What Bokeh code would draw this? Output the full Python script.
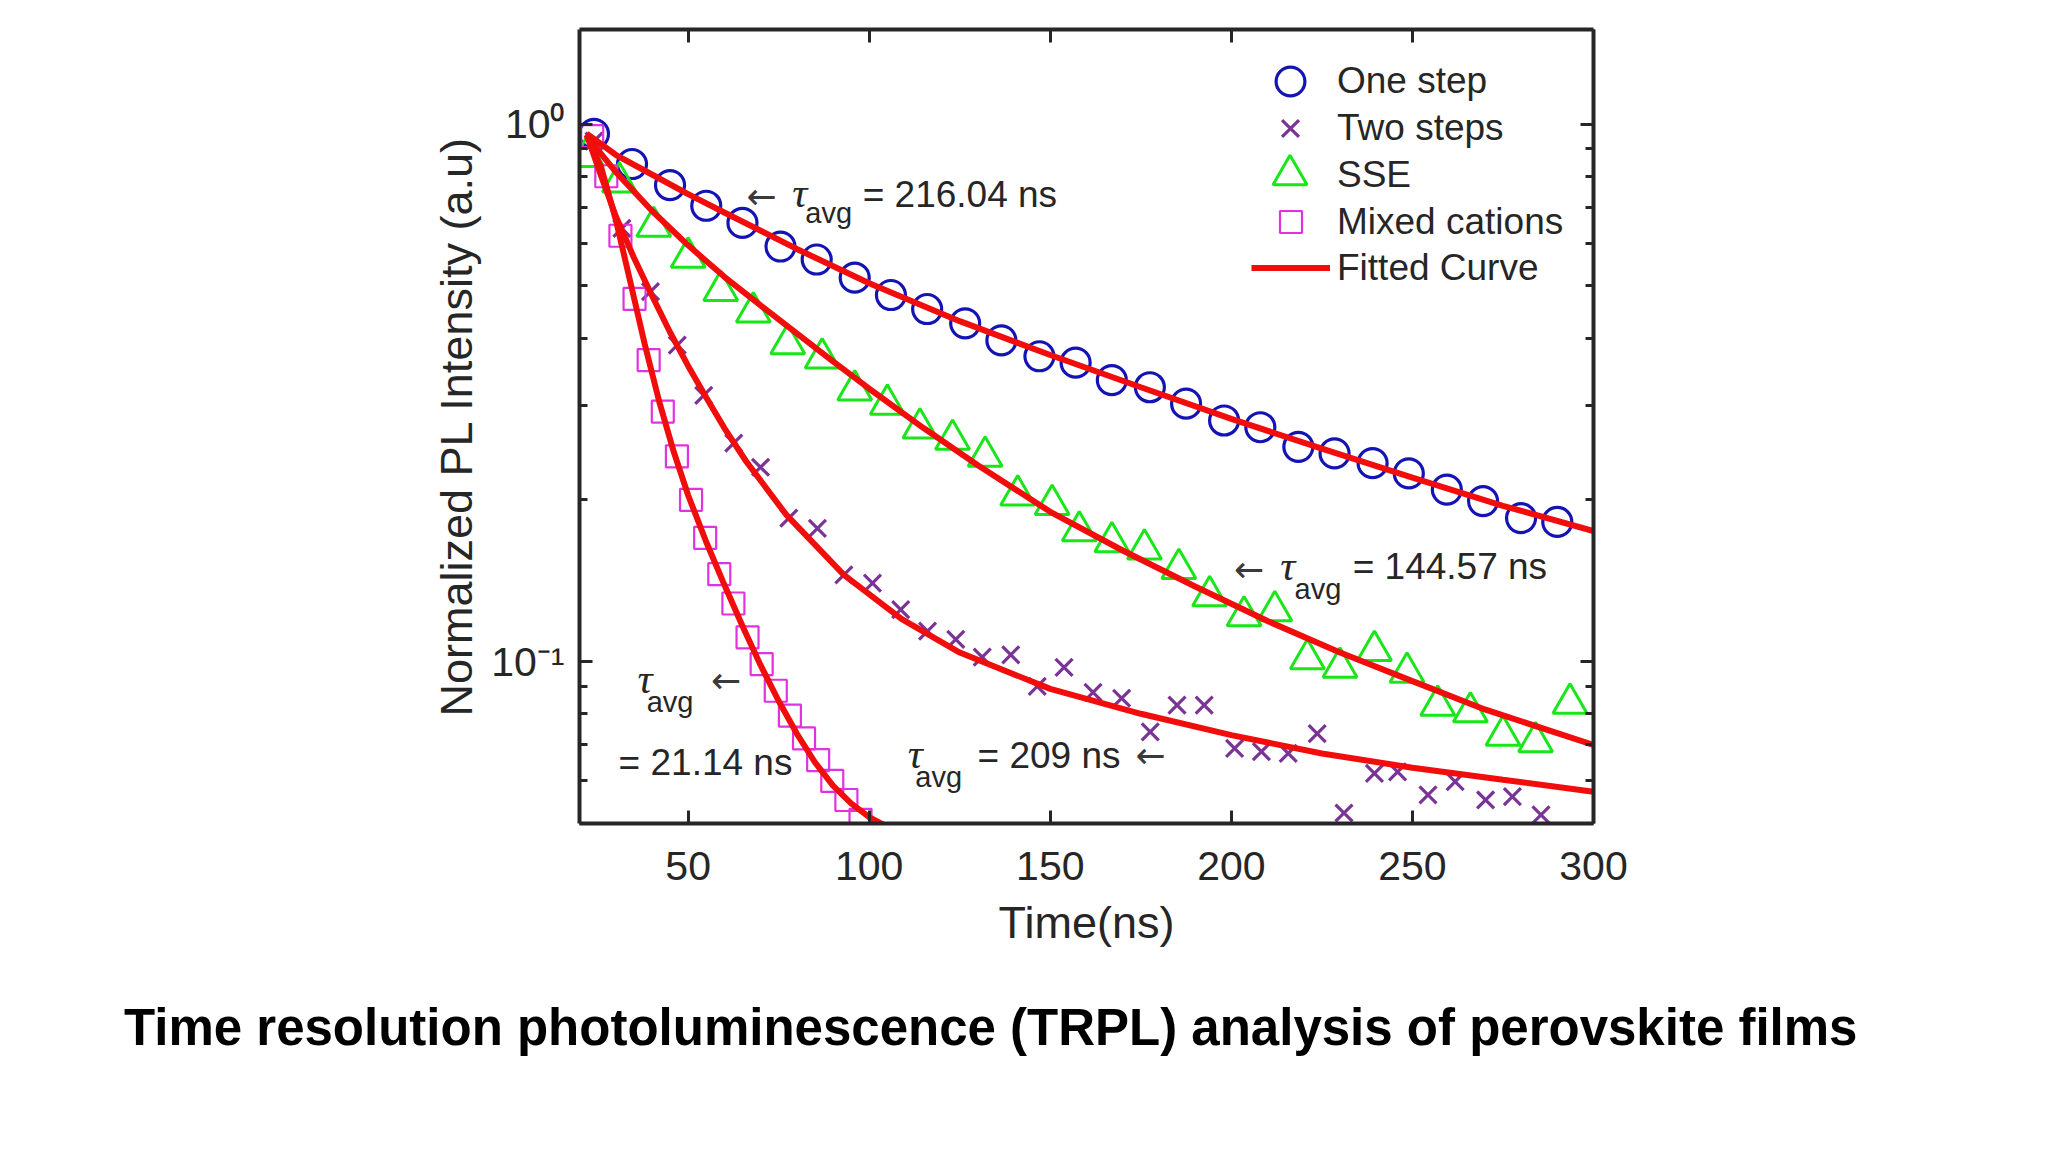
from bokeh.plotting import figure
from bokeh.models import (LinearAxis, LogAxis, FixedTicker, Legend, LegendItem,
                          Label, Div, Range1d, CustomJSTickFormatter)
from bokeh.layouts import column
from bokeh.embed import file_html
from bokeh.resources import INLINE

# ---------------- data ----------------
t_one = [24, 34.5, 45, 55, 65, 75.5, 85.5, 96, 106, 116, 126.5, 136.5, 147, 157, 167,
         177.5, 187.5, 198, 208, 218.5, 228.5, 239, 249, 259.5, 269.5, 280, 290]
one_step = [0.959, 0.843, 0.770, 0.705, 0.655, 0.592, 0.560, 0.518, 0.481, 0.453, 0.426,
            0.396, 0.370, 0.360, 0.334, 0.324, 0.302, 0.281, 0.273, 0.251, 0.244, 0.234,
            0.224, 0.209, 0.199, 0.185, 0.182]

t_two = [24, 31.7, 39.6, 47, 54.3, 62.6, 70, 77.8, 85.7, 93, 100.9, 108.7, 116.1, 123.9,
         131.2, 139.1, 146.4, 153.8, 161.8, 169.7, 177.6, 185, 192.5, 200.9, 208.3, 215.7,
         223.7, 231.1, 239.5, 245.9, 254.3, 261.8, 270.2, 277.6, 285.5]
two_steps = [0.93, 0.64, 0.488, 0.388, 0.313, 0.255, 0.230, 0.185, 0.177, 0.145, 0.140,
             0.125, 0.114, 0.110, 0.102, 0.103, 0.090, 0.0976, 0.0877, 0.0855, 0.074, 0.083,
             0.083, 0.069, 0.068, 0.0675, 0.0735, 0.0523, 0.062, 0.0624, 0.0565, 0.0598,
             0.0553, 0.0561, 0.0519]

t_sse = [22, 31, 40.5, 50, 59, 68, 77.5, 87, 96, 105, 114, 123, 132, 141, 150.5, 158, 167,
         176, 185.5, 194, 203.5, 212, 221, 230, 239.5, 248.5, 257, 266, 275, 284, 293.5]
sse = [0.87, 0.78, 0.645, 0.565, 0.49, 0.447, 0.39, 0.367, 0.32, 0.301, 0.272, 0.259, 0.241,
       0.204, 0.196, 0.175, 0.167, 0.162, 0.149, 0.1325, 0.1216, 0.1243, 0.1012, 0.0976,
       0.1048, 0.0955, 0.0829, 0.0806, 0.0729, 0.0709, 0.0836]

t_mix = [23.5, 27.4, 31.3, 35.2, 39.1, 43, 46.9, 50.8, 54.7, 58.6, 62.5, 66.4, 70.3, 74.2,
         78.1, 82, 85.9, 89.8, 93.7, 97.6]
mixed = [0.95, 0.80, 0.62, 0.473, 0.364, 0.292, 0.241, 0.200, 0.170, 0.1455, 0.1283, 0.111,
         0.099, 0.0883, 0.0794, 0.072, 0.0656, 0.060, 0.0553, 0.0508]

# fitted curves
fit_one_t = [22, 30, 40, 50, 60, 80, 100, 125, 150, 175, 200, 225, 250, 275, 300]
fit_one = [0.96, 0.877, 0.806, 0.741, 0.685, 0.586, 0.506, 0.430, 0.372, 0.324, 0.283,
           0.249, 0.220, 0.195, 0.175]
fit_sse_t = [22, 30, 40, 50, 60, 70, 80, 90, 100, 115, 130, 150, 170, 190, 210, 230, 250,
             270, 300]
fit_sse = [0.95, 0.815, 0.69, 0.595, 0.52, 0.46, 0.408, 0.362, 0.322, 0.272, 0.232, 0.19,
           0.161, 0.138, 0.119, 0.104, 0.092, 0.0815, 0.070]
fit_two_t = [22, 26, 30, 35, 40, 45, 50, 55, 60, 66, 77, 93, 109, 125, 150, 175, 200, 225,
             250, 275, 300]
fit_two = [0.955, 0.80, 0.675, 0.565, 0.48, 0.41, 0.355, 0.31, 0.272, 0.236, 0.188, 0.145,
           0.12, 0.104, 0.089, 0.08, 0.073, 0.0675, 0.0635, 0.0603, 0.0573]
fit_mix_t = [22, 26, 30, 34, 38, 42, 46, 50, 55, 60, 65, 70, 75, 80, 85, 90, 95, 100, 105, 110]
fit_mix = [0.955, 0.83, 0.665, 0.51, 0.39, 0.305, 0.246, 0.204, 0.167, 0.139, 0.1165, 0.0985,
           0.0845, 0.0735, 0.065, 0.0588, 0.0545, 0.0514, 0.0493, 0.0475]

x_ticks = [50, 100, 150, 200, 250, 300]
y_major = [0.1, 1.0]
y_minor = [0.05, 0.06, 0.07, 0.08, 0.09, 0.2, 0.3, 0.4, 0.5, 0.6, 0.7, 0.8, 0.9]
y_tick_labels = {0.1: "10⁻¹", 1.0: "10⁰"}

legend_labels = ["One step", "Two steps", "SSE", "Mixed cations", "Fitted Curve"]
x_title = "Time(ns)"
y_title = "Normalized PL Intensity (a.u)"
caption = "Time resolution photoluminescence (TRPL) analysis of perovskite films"

# annotations
annotations = [
    dict(tau=(80.8, 0.745), sub=(88.8, 0.683), eq=(98.2, 0.741), eq_text="= 216.04 ns", arrow=(70.3, 0.734)),
    dict(tau=(215.6, 0.1505), sub=(223.9, 0.1368), eq=(233.5, 0.1503), eq_text="= 144.57 ns", arrow=(204.9, 0.1483)),
    dict(tau=(112.7, 0.0672), sub=(119.2, 0.0611), eq=(129.9, 0.0668), eq_text="= 209 ns", arrow=(177.7, 0.0668)),
    dict(tau=(38.1, 0.0927), sub=(45.0, 0.0842), eq=(30.8, 0.0648), eq_text="= 21.14 ns", arrow=(60.5, 0.0922)),
]

# ---------------- styling ----------------
BLUE = "#1414b4"
PURPLE = "#7a3496"
GREEN = "#19e619"
MAGENTA = "#e033e0"
RED = "#f20d0d"
INK = "#262626"
FONT = "Liberation Sans"

FRAME_L, FRAME_R, FRAME_T, FRAME_B = 579, 1593, 29, 823

p = figure(width=2048, height=980, y_axis_type="log",
           x_range=Range1d(20, 300), y_range=Range1d(0.05, 1.5),
           output_backend="svg", toolbar_location=None,
           min_border_left=FRAME_L, min_border_right=2048 - FRAME_R,
           min_border_top=FRAME_T, min_border_bottom=980 - FRAME_B)
p.grid.visible = False
p.outline_line_color = None
p.background_fill_color = "white"
p.border_fill_color = "white"

xt = FixedTicker(ticks=x_ticks)
yt = FixedTicker(ticks=y_major, minor_ticks=y_minor)
blank = CustomJSTickFormatter(code="return ''")


def style_axis(ax):
    ax.axis_line_color = INK
    ax.axis_line_width = 4
    ax.major_tick_line_color = INK
    ax.major_tick_line_width = 3
    ax.minor_tick_line_color = INK
    ax.minor_tick_line_width = 3
    ax.major_tick_in = 13
    ax.major_tick_out = 0
    ax.minor_tick_in = 8
    ax.minor_tick_out = 0
    ax.major_label_text_font = FONT
    ax.major_label_text_font_size = "41px"
    ax.major_label_text_color = INK
    ax.axis_label_text_font = FONT
    ax.axis_label_text_font_size = "45px"
    ax.axis_label_text_font_style = "normal"
    ax.axis_label_text_color = INK


xa = p.xaxis[0]
ya = p.yaxis[0]
xa.ticker = xt
ya.ticker = yt
style_axis(xa)
style_axis(ya)
xa.axis_label = x_title
ya.axis_label = y_title
xa.major_label_standoff = 28
xa.axis_label_standoff = 14
ya.major_label_standoff = 15
ya.axis_label_standoff = 6
ya.major_label_overrides = y_tick_labels

top = LinearAxis(ticker=xt, formatter=blank, major_label_standoff=0)
right = LogAxis(ticker=yt, formatter=blank, major_label_standoff=0)
style_axis(top)
style_axis(right)
p.add_layout(top, "above")
p.add_layout(right, "right")

# markers
r_one = p.scatter(t_one, one_step, marker="circle", size=29, fill_color=None,
                  line_color=BLUE, line_width=3.2)
r_two = p.scatter(t_two, two_steps, marker="x", size=24, line_color=PURPLE, line_width=3.2)
r_sse = p.scatter(t_sse, sse, marker="triangle", size=34, fill_color=None,
                  line_color=GREEN, line_width=3)
r_mix = p.scatter(t_mix, mixed, marker="square", size=22, fill_color=None,
                  line_color=MAGENTA, line_width=2.2)

# fitted curves on top
r_fit = p.line(fit_one_t, fit_one, line_color=RED, line_width=6)
p.line(fit_sse_t, fit_sse, line_color=RED, line_width=6)
p.line(fit_two_t, fit_two, line_color=RED, line_width=6)
p.line(fit_mix_t, fit_mix, line_color=RED, line_width=6)

# legend: one single-item legend per row so each marker keeps its own size
rows = [(r_one, 29), (r_two, 24), (r_sse, 34), (r_mix, 22), (r_fit, None)]
glyph_cx = 1290 - FRAME_L
label_x = 1337 - FRAME_L
for i, (rend, msize) in enumerate(rows):
    cy = 81 + 46.75 * i
    if msize:
        W = H = int(round(msize / 0.4))
    else:
        W, H = 79, 47
    left = int(round(glyph_cx - W / 2))
    lg = Legend(items=[LegendItem(label=legend_labels[i], renderers=[rend])],
                location=(left, int(round(FRAME_B - (cy + H / 2)))))
    lg.glyph_width = W
    lg.glyph_height = H
    lg.label_height = H
    lg.spacing = 0
    lg.padding = 0
    lg.margin = 0
    lg.label_standoff = int(round(label_x - (left + W)))
    lg.border_line_color = None
    lg.background_fill_alpha = 0
    lg.label_text_font = FONT
    lg.label_text_font_size = "37px"
    lg.label_text_color = INK
    p.add_layout(lg)

for a in annotations:
    p.add_layout(Label(x=a["arrow"][0], y=a["arrow"][1], text="←", text_font="DejaVu Sans",
                       text_font_size="36px", text_align="center", text_baseline="middle",
                       text_color="#3a3a3a"))
    p.add_layout(Label(x=a["tau"][0], y=a["tau"][1], text="τ", text_font="Liberation Serif",
                       text_font_style="italic", text_font_size="42px", text_align="center",
                       text_baseline="middle", text_color=INK))
    p.add_layout(Label(x=a["sub"][0], y=a["sub"][1], text="avg", text_font=FONT,
                       text_font_size="29px", text_align="center", text_baseline="middle",
                       text_color=INK))
    p.add_layout(Label(x=a["eq"][0], y=a["eq"][1], text=a["eq_text"], text_font=FONT,
                       text_font_size="37px", text_align="left", text_baseline="middle",
                       text_color=INK))

cap = Div(text=('<div style="font-family: \'Liberation Sans\', Arial, sans-serif; '
                'font-size: 51px; font-weight: bold; color: #000; white-space: nowrap; '
                'padding-left: 124px; padding-top: 18px; line-height: 60px;">'
                + caption + '</div>'),
          width=2048, height=172, margin=(0, 0, 0, 0))

layout = column(p, cap, spacing=0)
open("out.html", "w").write(file_html(layout, INLINE))
